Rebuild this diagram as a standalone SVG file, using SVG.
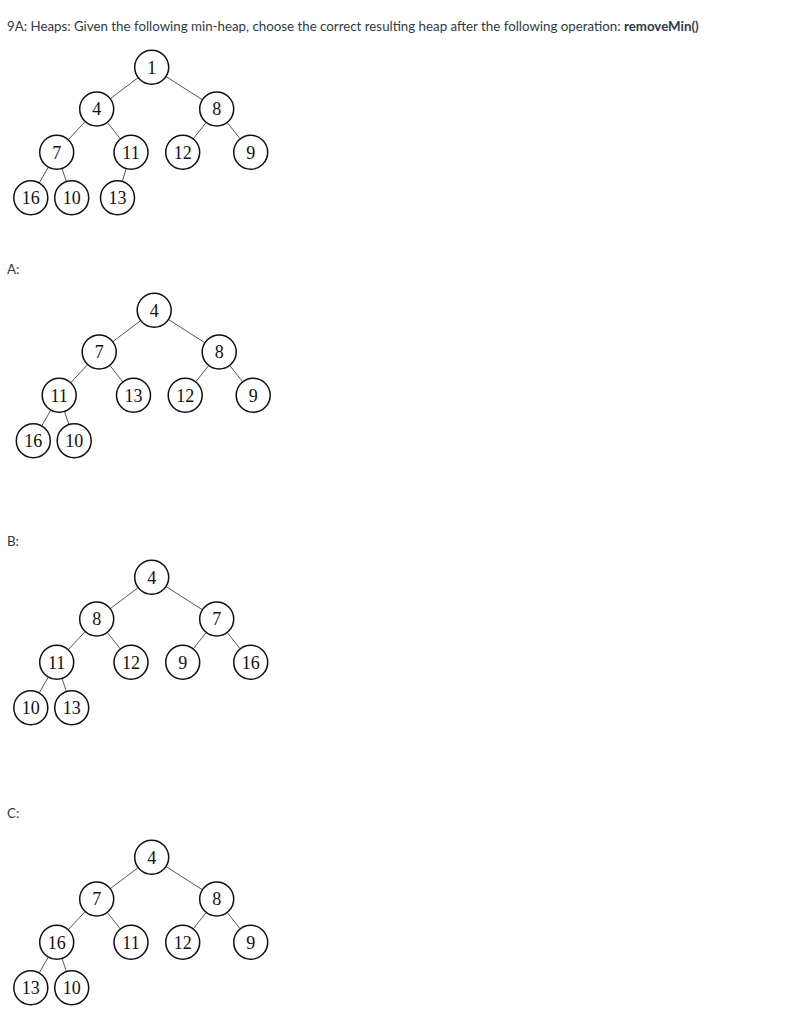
<svg xmlns="http://www.w3.org/2000/svg" width="796" height="1024" viewBox="0 0 796 1024">
<style>
.hdr{font-family:Lato,"Liberation Sans",sans-serif;font-size:13.3px;fill:#2d3b45}
.lbl{font-family:Lato,"Liberation Sans",sans-serif;font-size:13.3px;fill:#2d3b45}
.n circle{fill:#fff;stroke:#111;stroke-width:1.5}
.n text{font-family:"Liberation Serif","Times New Roman",serif;font-size:18px;fill:#111;text-anchor:middle}
.e line{stroke:#555;stroke-width:1}
</style>
<rect width="796" height="1024" fill="#fff"/>
<text class="hdr" x="7" y="31">9A: Heaps: Given the following min-heap, choose the correct resulting heap after the following operation: <tspan font-weight="bold">removeMin()</tspan></text>
<text class="lbl" x="7" y="274">A:</text>
<text class="lbl" x="7" y="546">B:</text>
<text class="lbl" x="7" y="818">C:</text>

<g id="connectors">
  <g id="edges-q" class="e">
    <line x1="138.2" y1="77.6" x2="110.2" y2="98.7"/>
    <line x1="166" y1="76.5" x2="202.4" y2="99.8"/>
    <line x1="85.2" y1="121.5" x2="68.2" y2="139.8"/>
    <line x1="107.3" y1="122.3" x2="120.4" y2="139"/>
    <line x1="206.2" y1="122.4" x2="193.2" y2="138.9"/>
    <line x1="227.2" y1="122.4" x2="240.2" y2="138.9"/>
    <line x1="48.3" y1="167.1" x2="39.2" y2="183"/>
    <line x1="62" y1="168.5" x2="66.4" y2="181.6"/>
    <line x1="126.2" y1="168.6" x2="122.3" y2="181.5"/>
  </g>
  <g id="edges-a" class="e" transform="translate(2.5,243)">
    <line x1="138.2" y1="77.6" x2="110.2" y2="98.7"/>
    <line x1="166" y1="76.5" x2="202.4" y2="99.8"/>
    <line x1="85.2" y1="121.5" x2="68.2" y2="139.8"/>
    <line x1="107.3" y1="122.3" x2="120.4" y2="139"/>
    <line x1="206.2" y1="122.4" x2="193.2" y2="138.9"/>
    <line x1="227.2" y1="122.4" x2="240.2" y2="138.9"/>
    <line x1="48.3" y1="167.1" x2="39.2" y2="183"/>
    <line x1="62" y1="168.5" x2="66.4" y2="181.6"/>
  </g>
  <g id="edges-b" class="e" transform="translate(0,510)">
    <line x1="138.2" y1="77.6" x2="110.2" y2="98.7"/>
    <line x1="166" y1="76.5" x2="202.4" y2="99.8"/>
    <line x1="85.2" y1="121.5" x2="68.2" y2="139.8"/>
    <line x1="107.3" y1="122.3" x2="120.4" y2="139"/>
    <line x1="206.2" y1="122.4" x2="193.2" y2="138.9"/>
    <line x1="227.2" y1="122.4" x2="240.2" y2="138.9"/>
    <line x1="48.3" y1="167.1" x2="39.2" y2="183"/>
    <line x1="62" y1="168.5" x2="66.4" y2="181.6"/>
  </g>
  <g id="edges-c" class="e" transform="translate(0,790)">
    <line x1="138.2" y1="77.6" x2="110.2" y2="98.7"/>
    <line x1="166" y1="76.5" x2="202.4" y2="99.8"/>
    <line x1="85.2" y1="121.5" x2="68.2" y2="139.8"/>
    <line x1="107.3" y1="122.3" x2="120.4" y2="139"/>
    <line x1="206.2" y1="122.4" x2="193.2" y2="138.9"/>
    <line x1="227.2" y1="122.4" x2="240.2" y2="138.9"/>
    <line x1="48.3" y1="167.1" x2="39.2" y2="183"/>
    <line x1="62" y1="168.5" x2="66.4" y2="181.6"/>
  </g>
</g>

<g id="tree-q">
  <g id="q-1" class="n"><circle cx="151.7" cy="67.3" r="17"/><text x="151.7" y="73.5">1</text></g>
  <g id="q-4" class="n"><circle cx="96.7" cy="109" r="17"/><text x="96.7" y="115.2">4</text></g>
  <g id="q-8" class="n"><circle cx="216.7" cy="109" r="17"/><text x="216.7" y="115.2">8</text></g>
  <g id="q-7" class="n"><circle cx="56.7" cy="152.3" r="17"/><text x="56.7" y="158.5">7</text></g>
  <g id="q-11" class="n"><circle cx="131" cy="152.3" r="17"/><text x="131" y="158.5">11</text></g>
  <g id="q-12" class="n"><circle cx="182.7" cy="152.3" r="17"/><text x="182.7" y="158.5">12</text></g>
  <g id="q-9" class="n"><circle cx="250.7" cy="152.3" r="17"/><text x="250.7" y="158.5">9</text></g>
  <g id="q-16" class="n"><circle cx="30.8" cy="197.8" r="17"/><text x="30.8" y="204">16</text></g>
  <g id="q-10" class="n"><circle cx="71.7" cy="197.8" r="17"/><text x="71.7" y="204">10</text></g>
  <g id="q-13" class="n"><circle cx="117.5" cy="197.8" r="17"/><text x="117.5" y="204">13</text></g>
</g>

<g id="tree-a" transform="translate(2.5,243)">
  <g id="a-4" class="n"><circle cx="151.7" cy="67.3" r="17"/><text x="151.7" y="73.5">4</text></g>
  <g id="a-7" class="n"><circle cx="96.7" cy="109" r="17"/><text x="96.7" y="115.2">7</text></g>
  <g id="a-8" class="n"><circle cx="216.7" cy="109" r="17"/><text x="216.7" y="115.2">8</text></g>
  <g id="a-11" class="n"><circle cx="56.7" cy="152.3" r="17"/><text x="56.7" y="158.5">11</text></g>
  <g id="a-13" class="n"><circle cx="131" cy="152.3" r="17"/><text x="131" y="158.5">13</text></g>
  <g id="a-12" class="n"><circle cx="182.7" cy="152.3" r="17"/><text x="182.7" y="158.5">12</text></g>
  <g id="a-9" class="n"><circle cx="250.7" cy="152.3" r="17"/><text x="250.7" y="158.5">9</text></g>
  <g id="a-16" class="n"><circle cx="30.8" cy="197.8" r="17"/><text x="30.8" y="204">16</text></g>
  <g id="a-10" class="n"><circle cx="71.7" cy="197.8" r="17"/><text x="71.7" y="204">10</text></g>
</g>

<g id="tree-b" transform="translate(0,510)">
  <g id="b-4" class="n"><circle cx="151.7" cy="67.3" r="17"/><text x="151.7" y="73.5">4</text></g>
  <g id="b-8" class="n"><circle cx="96.7" cy="109" r="17"/><text x="96.7" y="115.2">8</text></g>
  <g id="b-7" class="n"><circle cx="216.7" cy="109" r="17"/><text x="216.7" y="115.2">7</text></g>
  <g id="b-11" class="n"><circle cx="56.7" cy="152.3" r="17"/><text x="56.7" y="158.5">11</text></g>
  <g id="b-12" class="n"><circle cx="131" cy="152.3" r="17"/><text x="131" y="158.5">12</text></g>
  <g id="b-9" class="n"><circle cx="182.7" cy="152.3" r="17"/><text x="182.7" y="158.5">9</text></g>
  <g id="b-16" class="n"><circle cx="250.7" cy="152.3" r="17"/><text x="250.7" y="158.5">16</text></g>
  <g id="b-10" class="n"><circle cx="30.8" cy="197.8" r="17"/><text x="30.8" y="204">10</text></g>
  <g id="b-13" class="n"><circle cx="71.7" cy="197.8" r="17"/><text x="71.7" y="204">13</text></g>
</g>

<g id="tree-c" transform="translate(0,790)">
  <g id="c-4" class="n"><circle cx="151.7" cy="67.3" r="17"/><text x="151.7" y="73.5">4</text></g>
  <g id="c-7" class="n"><circle cx="96.7" cy="109" r="17"/><text x="96.7" y="115.2">7</text></g>
  <g id="c-8" class="n"><circle cx="216.7" cy="109" r="17"/><text x="216.7" y="115.2">8</text></g>
  <g id="c-16" class="n"><circle cx="56.7" cy="152.3" r="17"/><text x="56.7" y="158.5">16</text></g>
  <g id="c-11" class="n"><circle cx="131" cy="152.3" r="17"/><text x="131" y="158.5">11</text></g>
  <g id="c-12" class="n"><circle cx="182.7" cy="152.3" r="17"/><text x="182.7" y="158.5">12</text></g>
  <g id="c-9" class="n"><circle cx="250.7" cy="152.3" r="17"/><text x="250.7" y="158.5">9</text></g>
  <g id="c-13" class="n"><circle cx="30.8" cy="197.8" r="17"/><text x="30.8" y="204">13</text></g>
  <g id="c-10" class="n"><circle cx="71.7" cy="197.8" r="17"/><text x="71.7" y="204">10</text></g>
</g>
</svg>
